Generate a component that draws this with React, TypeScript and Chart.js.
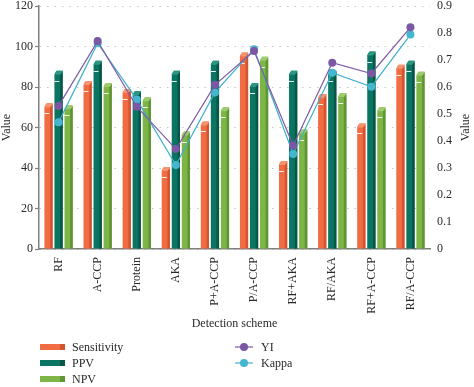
import React, { useEffect, useRef } from "react";
import { Chart, registerables } from "chart.js";
Chart.register(...registerables);

const categories = ["RF", "A-CCP", "Protein", "AKA", "P+A-CCP", "P/A-CCP", "RF+AKA", "RF/AKA", "RF+A-CCP", "RF/A-CCP"];
const sensitivity = [72, 83, 79, 40.5, 63, 97, 43.5, 76.5, 62, 91];
const ppv = [88, 93, 78, 88, 93, 82, 88, 88, 97.5, 93];
const npv = [71, 82, 75, 58, 70, 95, 59, 77, 70, 87.5];
const yi = [0.53, 0.77, 0.527, 0.37, 0.608, 0.733, 0.383, 0.69, 0.65, 0.821];
const kappa = [0.469, 0.762, 0.554, 0.311, 0.58, 0.74, 0.352, 0.653, 0.601, 0.794];
const leftTicks = [0, 20, 40, 60, 80, 100, 120];
const rightTicks = [0, 0.1, 0.2, 0.3, 0.4, 0.5, 0.6, 0.7, 0.8, 0.9];
const rightTickLabels = ["0", "0.1", "0.2", "0.3", "0.4", "0.5", "0.6", "0.7", "0.8", "0.9"];

const FONT = "Liberation Serif";
const TXT = "#2a2a2a";

const bar3d = {
  id: "bar3d",
  afterDatasetDraw(chart: any, args: any) {
    const meta = args.meta;
    if (meta.type !== "bar") return;
    const ds: any = chart.data.datasets[args.index];
    const ctx = chart.ctx;
    ctx.save();
    meta.data.forEach((el: any) => {
      const { x, y, base, width } = el.getProps(["x", "y", "base", "width"], true);
      const l = x - width / 2;
      const r = x + width / 2;
      ctx.fillStyle = "#ffffff";
      ctx.beginPath();
      ctx.moveTo(l - 0.5, y - 0.5);
      ctx.lineTo(l + 2.5, y - 0.5);
      ctx.lineTo(l - 0.5, y + 4);
      ctx.closePath();
      ctx.fill();
      ctx.fillStyle = ds.sideColor;
      ctx.beginPath();
      ctx.moveTo(r - 2.5, y + 4);
      ctx.lineTo(r, y + 1);
      ctx.lineTo(r, base);
      ctx.lineTo(r - 2.5, base);
      ctx.closePath();
      ctx.fill();
      ctx.fillStyle = ds.capColor;
      ctx.beginPath();
      ctx.moveTo(l, y + 4);
      ctx.lineTo(l + 2.5, y);
      ctx.lineTo(r, y);
      ctx.lineTo(r, y + 1);
      ctx.lineTo(r - 2.5, y + 4);
      ctx.closePath();
      ctx.fill();
      ctx.strokeStyle = "rgba(255,255,255,0.95)";
      ctx.lineWidth = 1;
      ctx.beginPath();
      ctx.moveTo(l, Math.round(y + 10) + 0.5);
      ctx.lineTo(l + width * 0.6, Math.round(y + 10) + 0.5);
      ctx.stroke();
    });
    ctx.restore();
  },
};

const legendPlugin = {
  id: "customLegend",
  afterDraw(chart: any) {
    const ctx = chart.ctx;
    const rows = [347, 363, 379];
    ctx.save();
    ctx.font = `12px "${FONT}"`;
    ctx.fillStyle = TXT;
    ctx.textBaseline = "middle";
    ctx.textAlign = "left";
    const dss: any[] = chart.data.datasets;
    const bars = dss.filter((d) => d.type === "bar");
    const lines = dss.filter((d) => d.type === "line");
    bars.forEach((d, i) => {
      const y = rows[i];
      ctx.fillStyle = d.backgroundColor;
      ctx.fillRect(40, y - 3, 20, 6);
      ctx.fillStyle = d.sideColor;
      ctx.fillRect(60, y - 3, 5, 6);
      ctx.fillStyle = TXT;
      ctx.fillText(d.label, 72, y + 0.5);
    });
    lines.forEach((d, i) => {
      const y = rows[i];
      ctx.strokeStyle = d.borderColor;
      ctx.lineWidth = 1.2;
      ctx.beginPath();
      ctx.moveTo(235, y);
      ctx.lineTo(253, y);
      ctx.stroke();
      ctx.fillStyle = d.backgroundColor;
      ctx.beginPath();
      ctx.arc(244, y, 4, 0, Math.PI * 2);
      ctx.fill();
      ctx.fillStyle = TXT;
      ctx.fillText(d.label, 261, y + 0.5);
    });
    const ca = chart.chartArea;
    ctx.translate(466, (ca.top + ca.bottom) / 2);
    ctx.rotate(-Math.PI / 2);
    ctx.textAlign = "center";
    ctx.fillText("Value", 0, 0);
    ctx.restore();
  },
};

export default function App() {
  const ref = useRef<HTMLCanvasElement>(null);
  useEffect(() => {
    const font = { family: FONT, size: 12 };
    const chart = new Chart(ref.current as HTMLCanvasElement, {
      type: "bar",
      data: {
        labels: categories,
        datasets: [
          { type: "line", label: "YI", data: yi, yAxisID: "y1", borderColor: "#7d5ba6", backgroundColor: "#7b58a4", pointRadius: 4, pointBorderWidth: 0, borderWidth: 1.2, order: 0 } as any,
          { type: "line", label: "Kappa", data: kappa, yAxisID: "y1", borderColor: "#3fb0cb", backgroundColor: "#45b6cf", pointRadius: 4, pointBorderWidth: 0, borderWidth: 1.2, order: 0 } as any,
          { type: "bar", label: "Sensitivity", data: sensitivity, yAxisID: "y", backgroundColor: "#f26c43", capColor: "#f69370", sideColor: "#d2552f", order: 1 } as any,
          { type: "bar", label: "PPV", data: ppv, yAxisID: "y", backgroundColor: "#0b7563", capColor: "#2c9783", sideColor: "#075646", order: 1 } as any,
          { type: "bar", label: "NPV", data: npv, yAxisID: "y", backgroundColor: "#7db547", capColor: "#9fcb6f", sideColor: "#5f9533", order: 1 } as any,
        ],
      },
      options: {
        animation: false,
        responsive: false,
        maintainAspectRatio: false,
        devicePixelRatio: 1,
        layout: { padding: { top: 0, bottom: 54, left: 0, right: 0 } },
        datasets: { bar: { categoryPercentage: 0.77, barPercentage: 0.82 } },
        plugins: { legend: { display: false }, tooltip: { enabled: false } },
        scales: {
          x: {
            type: "category",
            grid: { display: false, drawTicks: false },
            border: { display: true, color: "#808080", width: 1.5 },
            ticks: { autoSkip: false, maxRotation: 90, minRotation: 90, padding: 8, font, color: TXT },
            title: { display: true, text: "Detection scheme", font, color: TXT, padding: { top: 0, bottom: 2 } },
            afterFit: (s: any) => { s.height = 84; },
          },
          y: {
            position: "left",
            min: 0,
            max: 120,
            afterBuildTicks: (s: any) => { s.ticks = leftTicks.map((v) => ({ value: v })); },
            ticks: { padding: 2, font, color: TXT, callback: (v: any) => String(v) },
            grid: { color: "#c4c4c4", lineWidth: 1, tickLength: 4, tickColor: "#808080", tickWidth: 1.2 },
            border: { display: true, color: "#808080", width: 1.5, dash: [1.5, 6] },
            title: { display: true, text: "Value", font, color: TXT, padding: { top: 0, bottom: 0 } },
            afterFit: (s: any) => { s.width = 39; s.paddingTop = 6; s.paddingBottom = 0; },
          } as any,
          y1: {
            position: "right",
            min: 0,
            max: 0.9,
            afterBuildTicks: (s: any) => { s.ticks = rightTicks.map((v) => ({ value: v })); },
            ticks: { padding: 7, font, color: TXT, callback: (_v: any, i: number) => rightTickLabels[i] },
            grid: { display: false, drawTicks: false },
            border: { display: false },
            afterFit: (s: any) => { s.width = 44; s.paddingTop = 6; s.paddingBottom = 0; },
          } as any,
        },
      },
      plugins: [bar3d, legendPlugin],
    });
    return () => chart.destroy();
  }, []);
  return (
    <div style={{ position: "absolute", left: 0, top: 0, width: 474, height: 387, background: "#fff" }}>
      <canvas ref={ref} width={474} height={387} style={{ width: 474, height: 387, display: "block" }} />
    </div>
  );
}
